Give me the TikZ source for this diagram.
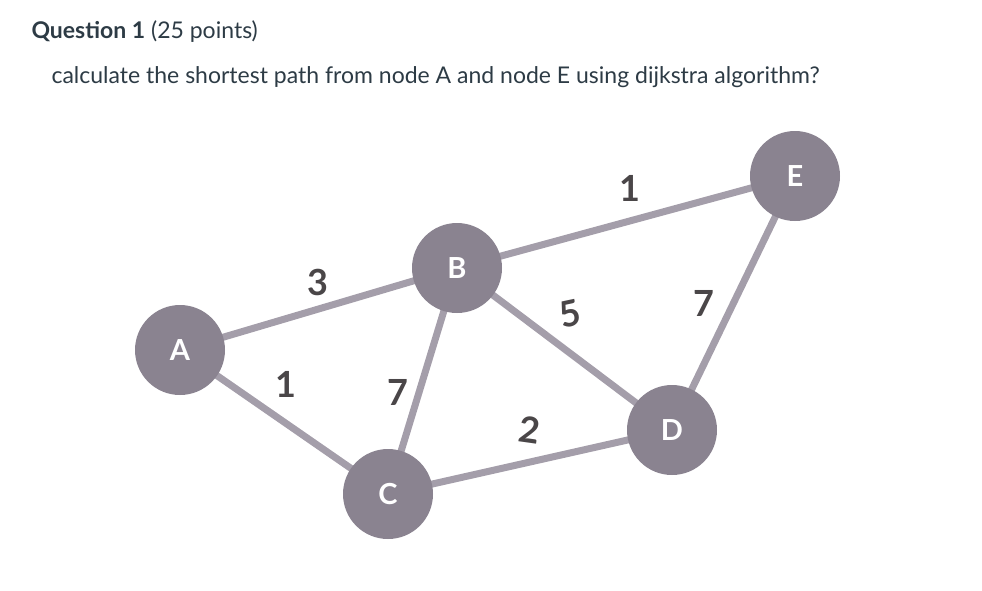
\documentclass[tikz,border=0pt]{standalone}
\usepackage{fontspec}
\setmainfont{Lato}
\definecolor{nodec}{HTML}{8A8390}
\definecolor{edgec}{HTML}{A49EAA}
\definecolor{labc}{HTML}{4A4648}
\definecolor{txt}{HTML}{2D3B45}
\begin{document}
\begin{tikzpicture}[x=1pt,y=-1pt,
  vtx/.style={circle,fill=nodec,minimum size=90pt,inner sep=0pt,text=white,font=\fontsize{29}{29}\selectfont\bfseries},
  edg/.style={edgec,line width=7pt},
  wlab/.style={text=labc,font=\fontsize{36}{36}\selectfont\bfseries}]
\useasboundingbox (0,0) rectangle (982,590);
\node[anchor=west,text=txt,font=\fontsize{23}{23}\selectfont] (q) at (28,32) {\textbf{Question 1} (25 points)};
\node[anchor=west,text=txt,font=\fontsize{23}{23}\selectfont] (t) at (48,77) {calculate the shortest path from node A and node E using dijkstra algorithm?};
\coordinate (pA) at (180,350);
\coordinate (pB) at (457,268);
\coordinate (pC) at (388,494);
\coordinate (pD) at (672,430);
\coordinate (pE) at (795,176);
\draw[edg] (pA)--(pB);
\draw[edg] (pA)--(pC);
\draw[edg] (pB)--(pC);
\draw[edg] (pB)--(pD);
\draw[edg] (pB)--(pE);
\draw[edg] (pC)--(pD);
\draw[edg] (pD)--(pE);
\node[vtx] (A) at (pA) {A};
\node[vtx] (B) at (pB) {B};
\node[vtx] (C) at (pC) {C};
\node[vtx] (D) at (pD) {D};
\node[vtx] (E) at (pE) {E};
\node[wlab] (l1) at (318,282) {3};
\node[wlab] (l2) at (286,384) {1};
\node[wlab] (l3) at (398,392) {7};
\node[wlab,rotate=-8] (l4) at (530,430) {2};
\node[wlab,rotate=12] (l5) at (570,314) {5};
\node[wlab] (l6) at (704,303) {7};
\node[wlab] (l7) at (630,188) {1};
\end{tikzpicture}
\end{document}
